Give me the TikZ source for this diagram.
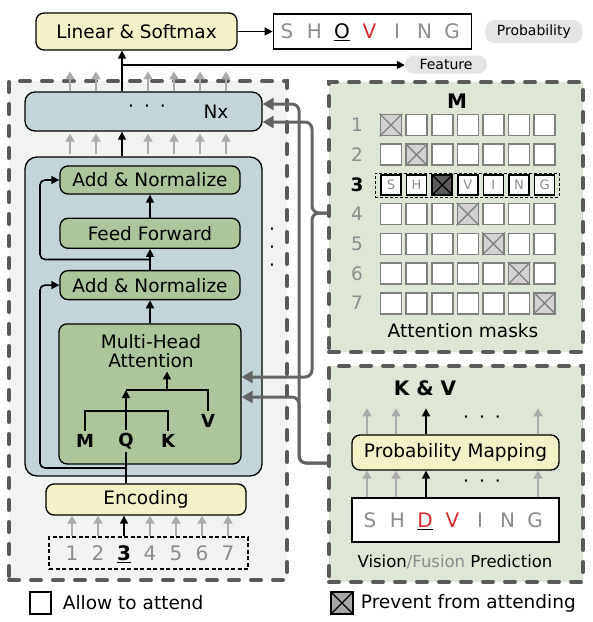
\documentclass[tikz,border=0pt]{standalone}
\usepackage{fontspec}
\setmainfont{DejaVu Sans}
\usetikzlibrary{arrows.meta, positioning, calc}
\definecolor{panelline}{HTML}{5A5A5A}
\definecolor{leftbg}{HTML}{F0F3F0}
\definecolor{rightbg}{HTML}{DEE6D6}
\definecolor{blockblue}{HTML}{C3D5D9}
\definecolor{blockgreen}{HTML}{ADC59A}
\definecolor{blockyellow}{HTML}{F3F1C6}
\definecolor{pillgray}{HTML}{E4E4E4}
\definecolor{arrgray}{HTML}{ABABAB}
\definecolor{conngray}{HTML}{646464}
\definecolor{lettergray}{HTML}{8C8C8C}
\definecolor{predred}{HTML}{D92B2B}
\definecolor{cellgray}{HTML}{D2D2D2}
\newcommand{\sizept}[1]{\fontsize{#1}{#1}\selectfont}

\begin{document}
\begin{tikzpicture}[
    x=1pt, y=-1pt,
    panel/.style={draw=panelline, line width=4pt, dash pattern=on 10pt off 12pt, line cap=round, inner sep=0pt},
    block/.style={draw, line width=1.3pt, rounded corners=8pt, inner sep=0pt, font=\sizept{18.5}},
    yblock/.style={block, fill=blockyellow},
    gblock/.style={block, fill=blockgreen},
    wordbox/.style={draw, line width=1.5pt, fill=white, inner sep=0pt},
    pill/.style={fill=pillgray, rounded corners=9pt, inner sep=0pt, font=\sizept{14}},
    arr/.style={line width=1.6pt, -{Triangle[width=8pt,length=8pt]}},
    garr/.style={draw=arrgray, line width=2.6pt, -{Triangle[width=9pt,length=8pt]}},
    conn/.style={draw=conngray, line width=3pt, rounded corners=7pt, -{Triangle[width=12pt,length=11pt]}},
    cell/.style={draw=gray, line width=1.6pt, minimum width=21pt, minimum height=21pt, inner sep=0pt, fill=white},
    letter/.style={font=\sizept{20}, anchor=base},
    qkv/.style={font=\bfseries\sizept{18}, inner sep=3pt},
    txt/.style={font=\sizept{18.5}},
    rowlbl/.style={font=\sizept{18.5}, text=lettergray}
]
\useasboundingbox (0,0) rectangle (593,622);

% panels
\node[panel, fill=leftbg, minimum width=278pt, minimum height=499pt] (encpanel) at (148,330.5) {};
\node[panel, fill=rightbg, minimum width=254pt, minimum height=270pt] (maskpanel) at (456,217) {};
\node[panel, fill=rightbg, minimum width=254pt, minimum height=216pt] (kvpanel) at (456,474) {};

% output row
\node[yblock, minimum width=201pt, minimum height=37pt] (linsoft) at (136.5,31.5) {Linear \& Softmax};
\node[wordbox, minimum width=198pt, minimum height=35pt, right=35pt of linsoft] (outword) {};
\foreach \ltr/\clr [count=\idx] in {S/lettergray, H/lettergray, \underline{O}/black, V/predred, I/lettergray, N/lettergray, G/lettergray}
    \node[letter, text=\clr] at (259.5+27.5*\idx, 38.8) {\ltr};
\node[pill, minimum width=97pt, minimum height=23pt, right=13pt of outword] (probpill) {Probability};
\node[pill, minimum width=82pt, minimum height=18pt] (featpill) at (446,64.5) {Feature};
\draw[arr] (linsoft) -- (outword);

% stacked layers
\node[block, fill=blockblue, rounded corners=10pt, minimum width=237pt, minimum height=39pt] (nxblock) at (143.5,111.5) {};
\node[txt] (nxdots) at (147,109) {·\hspace{10pt}·\hspace{10pt}·};
\node[txt] (nxlabel) at (216,111.5) {Nx};
\coordinate (featsplit) at (122,65);
\draw[arr] (nxblock.north -| 122,0) -- (linsoft.south -| 122,0);
\draw[arr] (featsplit) -- (featsplit -| featpill.west);
\foreach \x in {70,96,148,174,200,226}
    \draw[garr] (nxblock.north -| \x,0) -- ++(0,-20);

% one encoder layer
\node[block, fill=blockblue, rounded corners=12pt, minimum width=237pt, minimum height=319pt] (layer) at (143.5,316.5) {};
\foreach \x in {70,96,148,174,200,226}
    \draw[garr, shorten <=2pt, shorten >=2pt] (layer.north -| \x,0) -- (nxblock.south -| \x,0);
\draw[arr] (layer.north -| 122,0) -- (nxblock.south -| 122,0);
\node[txt] (vdots) at (272,232) {·};
\node[txt] at (272,250) {·};
\node[txt] at (272,268) {·};

\node[gblock, minimum width=180pt, minimum height=28pt] (addnorm1) at (150,180) {Add \& Normalize};
\node[gblock, minimum width=180pt, minimum height=30pt, below=23pt of addnorm1] (feedfwd) {Feed Forward};
\node[gblock, minimum width=180pt, minimum height=29pt, below=21pt of feedfwd] (addnorm2) {Add \& Normalize};
\node[gblock, minimum width=182pt, minimum height=140pt, below=23pt of addnorm2] (mha) {};
\node[txt, align=center] (mhalabel) at (151,351) {Multi-Head\\[1pt]Attention};

\draw[arr] (mha.north) -- (addnorm2.south);
\draw[arr] (addnorm2.north) -- (feedfwd.south);
\draw[arr] (feedfwd.north) -- (addnorm1.south);
\coordinate (ffsplit) at ($(addnorm2.north)!0.5!(feedfwd.south)$);
\draw[arr, rounded corners=5pt] (ffsplit) -- (40,0 |- ffsplit) |- (addnorm1.west);

% attention inputs
\node[qkv] (mlbl) at (85,441) {M};
\node[qkv] (qlbl) at (126,441) {Q};
\node[qkv] (klbl) at (168,441) {K};
\node[qkv] (vlbl) at (208,421) {V};
\coordinate (vjoin) at (167,390);
\draw[line width=1.6pt] (mlbl.north) -- (mlbl.north |- 0,411) -| (klbl.north);
\draw[arr] (qlbl.north) -- (qlbl.north |- vjoin);
\draw[line width=1.6pt] (vlbl.north) -- (vlbl.north |- vjoin) -- (qlbl.north |- vjoin);
\draw[arr] (vjoin) -- (vjoin |- mhalabel.south);

% embedding
\node[yblock, minimum width=200pt, minimum height=31pt] (encoding) at (146,499.5) {Encoding};
\node[draw, line width=1.2pt, dash pattern=on 4pt off 2.5pt, minimum width=199pt, minimum height=32pt] (posbox) at (148.5,553) {};
\foreach \d [count=\idx] in {1,2,{\textcolor{black}{\textbf{\underline{3}}}},4,5,6,7}
    \node[letter, text=lettergray] at (46+26*\idx, 560.3) {\d};
\foreach \idx in {1,2,4,5,6,7}
    \draw[garr] (posbox.north -| 46+26*\idx,0) -- (encoding.south -| 46+26*\idx,0);
\draw[arr] (posbox.north -| 124,0) -- (encoding.south -| 124,0);
\draw[line width=1.6pt] (encoding.north -| qlbl) -- (qlbl.south);
\draw[arr, rounded corners=5pt] (qlbl |- 0,468) -- (40,468) |- (addnorm2.west);

% attention masks
\node[font=\bfseries\sizept{20}] (masktitle) at (457,101) {M};
\foreach \mrow in {1,2,4,5,6,7} {
    \node[rowlbl] at (357,95.3+29.7*\mrow) {\mrow};
    \foreach \mcol in {1,...,7} {
        \ifnum\mcol=\mrow
            \node[cell, fill=cellgray] (m\mrow\mcol) at (365.4+25.6*\mcol, 95.3+29.7*\mrow) {};
            \draw[gray, line width=1.3pt] (m\mrow\mcol.north west) -- (m\mrow\mcol.south east)
                (m\mrow\mcol.north east) -- (m\mrow\mcol.south west);
        \else
            \node[cell] (m\mrow\mcol) at (365.4+25.6*\mcol, 95.3+29.7*\mrow) {};
        \fi
    }
}
\node[font=\bfseries\sizept{18.5}] at (357,184.4) {3};
\node[draw, line width=1pt, dash pattern=on 3pt off 2pt, minimum width=184pt, minimum height=24pt] (row3box) at (467,185) {};
\foreach \ltr [count=\mcol] in {S,H,X,V,I,N,G} {
    \ifnum\mcol=3
        \node[cell, draw=black, fill=panelline, minimum width=20pt, minimum height=20pt] (q\mcol) at (365.4+25.6*\mcol, 185) {};
        \draw[black, line width=1.3pt] (q\mcol.north west) -- (q\mcol.south east)
            (q\mcol.north east) -- (q\mcol.south west);
    \else
        \node[cell, draw=black, minimum width=20pt, minimum height=20pt, text=lettergray, font=\sizept{13}] (q\mcol) at (365.4+25.6*\mcol, 185) {\ltr};
    \fi
}
\node[txt] (masklabel) at (463,331) {Attention masks};

% key and value
\node[font=\bfseries\sizept{20}] (kvtitle) at (425,388) {K \& V};
\node[yblock, minimum width=207pt, minimum height=35pt] (probmap) at (455.5,452.5) {Probability Mapping};
\node[wordbox, minimum width=207pt, minimum height=44pt] (visword) at (455.5,520) {};
\foreach \ltr/\clr [count=\idx] in {S/lettergray, H/lettergray, {\underline{\textcolor{predred}{D}}}/black, V/predred, I/lettergray, N/lettergray, G/lettergray}
    \node[letter, text=\clr] at (342.5+27.5*\idx, 527.3) {\ltr};
\foreach \x in {367,396,538} {
    \draw[garr] (visword.north -| \x,0) -- (probmap.south -| \x,0);
    \draw[garr] (probmap.north -| \x,0) -- ++(0,-26);
}
\draw[arr] (visword.north -| 426,0) -- (probmap.south -| 426,0);
\draw[arr] (probmap.north -| 426,0) -- ++(0,-26);
\node[txt] at (482,420) {·\hspace{10pt}·\hspace{10pt}·};
\node[txt] at (482,484) {·\hspace{10pt}·\hspace{10pt}·};
\node[font=\sizept{16.5}] (predlabel) at (455,562) {Vision\textcolor{lettergray}{/Fusion} Prediction};

% connectors between panels
\coordinate (masktap) at (maskpanel.west |- 0,213);
\coordinate (kvtap) at (kvpanel.west |- 0,463);
\draw[conn] (masktap) -- (312,213) |- (nxblock.east |- 0,122);
\draw[conn] (masktap) -- (312,213) |- (mha.east |- 0,377);
\draw[conn] (kvtap) -- (299,463) |- (nxblock.east |- 0,104);
\draw[conn] (kvtap) -- (299,463) |- (mha.east |- 0,397);

% legend
\node[draw, line width=1.5pt, minimum width=21pt, minimum height=22pt, inner sep=0pt] (allowkey) at (40.5,603) {};
\node[txt, inner sep=0pt, right=11pt of allowkey] (allowtxt) {Allow to attend};
\node[draw, line width=1.5pt, fill=gray!70, minimum width=22pt, minimum height=22pt, inner sep=0pt] (preventkey) at (342,603) {};
\draw[line width=1.3pt] (preventkey.north west) -- (preventkey.south east)
    (preventkey.north east) -- (preventkey.south west);
\node[txt, inner sep=0pt, right=7pt of preventkey] (preventtxt) {Prevent from attending};
\end{tikzpicture}
\end{document}
